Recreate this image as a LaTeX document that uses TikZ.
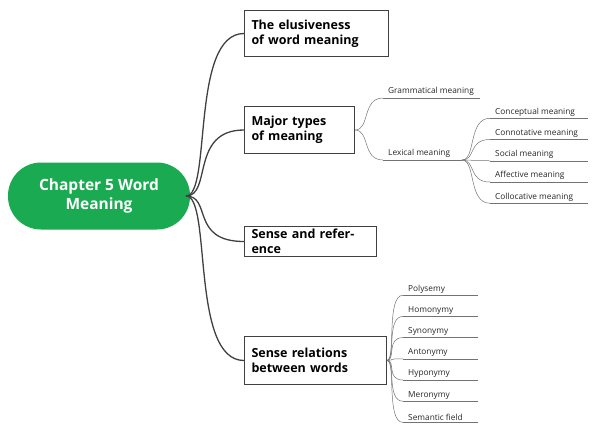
\documentclass[tikz,border=0pt]{standalone}
\usepackage{fontspec}
\setmainfont{Open Sans}
\begin{document}
\begin{tikzpicture}[x=1pt,y=-1pt,
  box/.style={draw=black!75,line width=1pt,fill=white,align=left,font=\fontsize{12.5}{15}\selectfont\bfseries,inner sep=0pt,anchor=north west},
  conn/.style={draw=black!75,line width=1.3pt},
  thin/.style={draw=black!55,line width=0.5pt},
  lab/.style={font=\fontsize{8.3}{10}\selectfont,text=black!85,anchor=south west,inner xsep=5pt,inner ysep=2pt}]
\useasboundingbox (0,0) rectangle (600,434);
\node[fill={rgb,255:red,26;green,170;blue,82},rounded corners=33pt,minimum width=182pt,minimum height=67pt,text=white,align=center,font=\fontsize{15.5}{19}\selectfont\bfseries] (c) at (99,196) {Chapter 5 Word\\Meaning};
\node[box,minimum width=143pt,minimum height=46pt,text width=130pt,inner xsep=7pt] (b1) at (244,10) {The elusiveness\\of word meaning};
\node[box,minimum width=109pt,minimum height=47pt,text width=96pt,inner xsep=7pt] (b2) at (244,106) {Major types\\of meaning};
\node[box,minimum width=131pt,minimum height=30pt,text width=118pt,inner xsep=7pt] (b3) at (244,226) {Sense and reference};
\node[box,minimum width=141pt,minimum height=48pt,text width=128pt,inner xsep=7pt] (b4) at (244,336) {Sense relations\\between words};
\coordinate (cr) at (186,196);
\foreach \b in {b1,b2,b3,b4}{
  \draw[conn] (cr) .. controls (212,196) and (190,0|-\b.west) .. (\b.west);}
% major types
\coordinate (g1) at (383,98); \coordinate (g2) at (480,98);
\coordinate (l1) at (383,160); \coordinate (l2) at (462,160);
\node[lab] (gm) at (g1) {Grammatical meaning};
\node[lab] (lm) at (l1) {Lexical meaning};
\draw[thin] (g1)--(g2); \draw[thin] (l1)--(l2);
\foreach \t in {g1,l1}{\draw[thin] (b2.east) .. controls (370,130) and (362,0|-\t) .. (\t);}
\foreach[count=\i] \t in {Conceptual meaning,Connotative meaning,Social meaning,Affective meaning,Collocative meaning}{
  \coordinate (s\i) at (490,{97+21.25*\i});
  \coordinate (e\i) at (588,{97+21.25*\i});
  \node[lab] (n\i) at (s\i) {\t};
  \draw[thin] (s\i)--(e\i);
  \draw[thin] (l2) .. controls (476,160) and (468,0|-s\i) .. (s\i);}
% sense relations
\foreach[count=\i] \t in {Polysemy,Homonymy,Synonymy,Antonymy,Hyponymy,Meronymy,Semantic field}{
  \coordinate (p\i) at (403,{274+21.2*\i});
  \coordinate (q\i) at (478,{274+21.2*\i});
  \node[lab] (m\i) at (p\i) {\t};
  \draw[thin] (p\i)--(q\i);
  \draw[thin] (b4.east) .. controls (396,360) and (386,0|-p\i) .. (p\i);}
\end{tikzpicture}
\end{document}
